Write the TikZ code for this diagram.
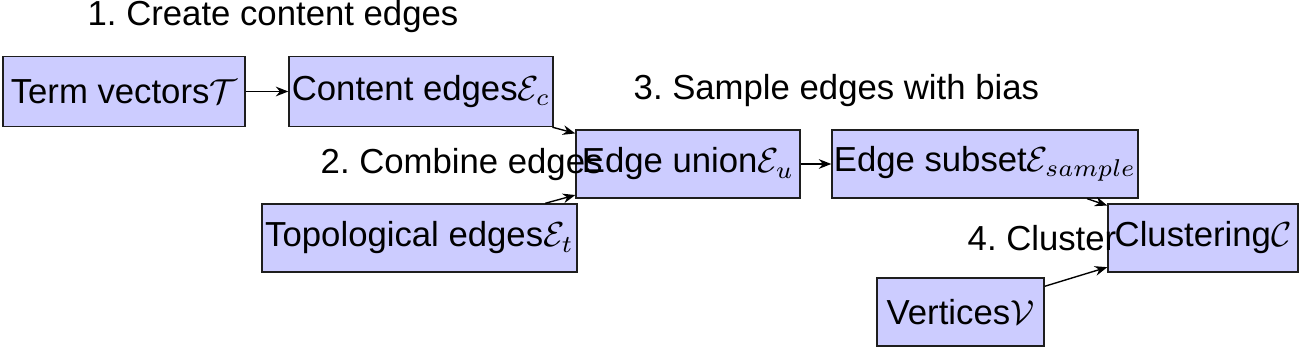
\documentclass[tikz,border=0pt]{standalone}
\usepackage{fontspec}
\setmainfont{Liberation Sans}
\usetikzlibrary{arrows.meta}
\definecolor{boxFill}{RGB}{204,204,255}
\definecolor{boxBrd}{RGB}{30,30,30}
\def\u{0.288pt}
\frenchspacing
\tikzset{
  every node/.style={font=\normalsize},
  B/.style={draw=boxBrd, fill=boxFill, inner sep=0pt, minimum height=68*\u},
  STEP/.style={anchor=base west, inner sep=0pt},
  AR/.style={-{Stealth[length=3.6pt, width=2.8pt]}, black},
}
\newcommand{\eflow}[2]{\draw[AR] (#1) -- (#2);}

\begin{document}
\begin{tikzpicture}[x=0.288pt, y=0.288pt, yscale=-1]

\useasboundingbox (0,0) rectangle (1308,350);

%% Boxes
\node[B, minimum width=242*\u, minimum height=70*\u] (TERM) at (124,91.5)
  {Term vectors$\mathcal{T}$};
\node[B, minimum width=264*\u, minimum height=70*\u] (CONT) at (421,91.5)
  {Content edges$\mathcal{E}_c$};
\node[B, minimum width=315*\u] (TOPO) at (419.5,238)
  {Topological edges$\mathcal{E}_t$};
\node[B, minimum width=224*\u] (UNION) at (688,164)
  {Edge union$\mathcal{E}_u$};
\node[B, minimum width=306*\u] (SUBSET) at (985,164)
  {Edge subset$\mathcal{E}_{sample}$};
\node[B, minimum width=190*\u] (CLUST) at (1203,238)
  {Clustering$\mathcal{C}$};
\node[B, minimum width=167*\u] (VERT) at (960.5,312)
  {Vertices$\mathcal{V}$};

%% Step labels
\node[STEP] (S1) at (87,26)   {1. Create content edges};
\node[STEP] (S2) at (320,173) {2. Combine edges};
\node[STEP] (S3) at (633,100) {3. Sample edges with bias};
\node[STEP] (S4) at (967,250) {4. Cluster};

%% Flow
\eflow{TERM}{CONT}
\eflow{CONT}{UNION}
\eflow{TOPO}{UNION}
\eflow{UNION}{SUBSET}
\eflow{SUBSET}{CLUST}
\eflow{VERT}{CLUST}

\end{tikzpicture}
\end{document}
